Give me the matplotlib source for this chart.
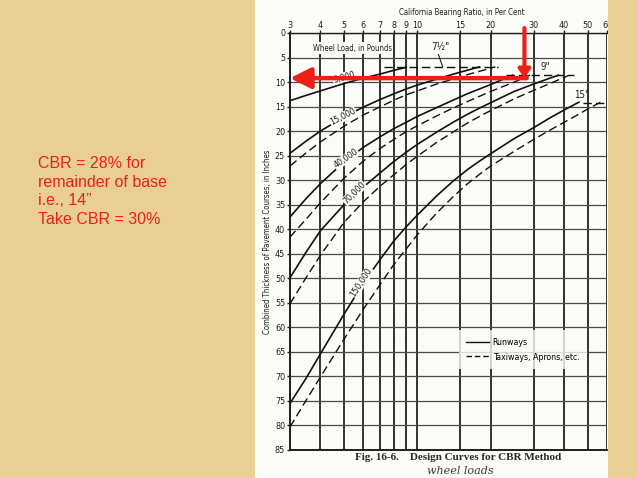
import numpy as np
import matplotlib
matplotlib.use('Agg')
from matplotlib import pyplot as plt
from matplotlib.patches import Rectangle
from matplotlib.lines import Line2D
from matplotlib.ticker import FixedLocator, FixedFormatter, NullLocator

# axis ticks
cbr_ticks = [3, 4, 5, 6, 7, 8, 9, 10, 15, 20, 30, 40, 50, 60]
thk_ticks = list(range(0, 90, 5))

# design curves: CBR (%) vs combined thickness (in)
w5k_run_cbr = [3, 3.5, 4, 5, 6, 7, 8, 9]
w5k_run_thk = [13.8, 12.7, 11.8, 10.3, 9.2, 8.4, 7.6, 7.0]

w15k_run_cbr = [3, 3.5, 4, 5, 6, 7, 8, 9, 10, 12, 14, 16, 18]
w15k_run_thk = [24.5, 22.0, 20.0, 17.1, 15.1, 13.6, 12.4, 11.4, 10.6, 9.4, 8.4, 7.6, 6.9]
w15k_taxi_cbr = [3, 3.5, 4, 5, 6, 7, 8, 9, 10, 12, 14, 16, 18, 20.9]
w15k_taxi_thk = [27.1, 24.4, 22.2, 19.0, 16.7, 15.1, 13.7, 12.6, 11.8, 10.4, 9.4, 8.5, 7.8, 6.9]

w40k_run_cbr = [3, 3.5, 4, 5, 6, 7, 8, 9, 10, 12, 14, 16, 18, 20, 24.6]
w40k_run_thk = [37.5, 33.7, 30.7, 26.3, 23.3, 21.2, 19.5, 18.2, 17.0, 15.2, 13.7, 12.4, 11.4, 10.5, 8.6]
w40k_taxi_cbr = [3, 3.5, 4, 5, 6, 7, 8, 9, 10, 12, 14, 16, 18, 20, 25, 29]
w40k_taxi_thk = [41.6, 37.9, 34.6, 29.6, 26.1, 23.6, 21.7, 20.1, 18.9, 16.9, 15.3, 14.0, 12.9, 11.9, 10.0, 8.6]

w70k_run_cbr = [3, 3.5, 4, 5, 6, 7, 8, 9, 10, 12, 14, 16, 18, 20, 25, 30, 35, 38]
w70k_run_thk = [49.9, 44.6, 40.3, 35.0, 31.4, 28.6, 26.2, 24.3, 22.7, 20.2, 18.2, 16.6, 15.3,
                14.2, 11.9, 10.4, 9.2, 8.6]
w70k_taxi_cbr = [3, 3.5, 4, 5, 6, 7, 8, 9, 10, 12, 14, 16, 18, 20, 25, 30, 35, 42]
w70k_taxi_thk = [55.2, 49.8, 45.3, 38.6, 34.4, 31.3, 28.9, 26.8, 25.1, 22.3, 20.2, 18.4, 17.0,
                 15.8, 13.4, 11.7, 10.3, 8.6]

w150k_run_cbr = [3, 3.5, 4, 5, 6, 7, 8, 9, 10, 12, 14, 16, 18, 20, 25, 30, 35, 40, 46]
w150k_run_thk = [75.5, 70.3, 65.4, 57.3, 51.0, 46.3, 42.4, 39.5, 37.1, 33.2, 30.2, 27.9, 26.1,
                 24.6, 21.5, 19.3, 17.3, 15.7, 14.1]
w150k_taxi_cbr = [3, 3.5, 4, 5, 6, 7, 8, 9, 10, 12, 14, 16, 18, 20, 25, 30, 35, 40, 45, 50, 56.5]
w150k_taxi_thk = [80.3, 74.8, 70.1, 62.4, 56.3, 51.4, 47.2, 44.0, 41.1, 36.7, 33.4, 30.8, 28.8,
                  27.1, 24.1, 21.7, 19.8, 18.2, 16.8, 15.5, 14.1]

# minimum thickness cut-offs (dashed horizontals)
min_thk = [6.9, 8.6, 14.2]
min_thk_from = [7.3, 23, 48]
min_thk_to = [21.5, 44, 60]
min_thk_labels = ['7\u00bd"', '9"', '15"']
min_lbl_cbr = [12.4, 33.4, 47.3]
min_lbl_thk = [2.9, 7.0, 12.6]

# curve labels
load_labels = ['5,000', '15,000', '40,000', '70,000', '150,000']
load_lbl_cbr = [5.0, 4.95, 5.1, 5.5, 5.9]
load_lbl_thk = [9.0, 17.1, 25.6, 32.6, 50.8]
load_lbl_rot = [16, 27, 34, 45, 57]

# red reading arrow
pick_cbr = 27.5
pick_thk = 9.2

note_lines = ['CBR = 28% for', 'remainder of base', 'i.e., 14\u201d', 'Take CBR = 30%']

tan = '#EACF94'
red = '#EC2016'
ink = '#1e1e1e'
paper = '#FBFBF8'
narrow = dict(family=['Liberation Sans Narrow', 'DejaVu Sans'], stretch='condensed')

W, H = 638, 478
fig = plt.figure(figsize=(W / 100, H / 100), dpi=100)
fig.patch.set_facecolor(tan)

# scanned page
fig.add_artist(Rectangle((255 / W, 0), (608 - 255) / W, 1, transform=fig.transFigure,
                         facecolor=paper, edgecolor='none', zorder=-5))

ax = fig.add_axes([290 / W, 1 - 450 / H, (607 - 290) / W, (450 - 33) / H])
ax.set_facecolor('none')
ax.set_xscale('log')
ax.set_xlim(3, 60)
ax.set_ylim(85, 0)

ax.xaxis.set_major_locator(FixedLocator(cbr_ticks))
ax.xaxis.set_major_formatter(FixedFormatter([str(c) for c in cbr_ticks]))
ax.xaxis.set_minor_locator(NullLocator())
ax.set_yticks(thk_ticks)
ax.tick_params(axis='x', top=True, labeltop=True, bottom=False, labelbottom=False,
               length=2, width=1, pad=0.5, labelsize=6.5, colors=ink)
ax.tick_params(axis='y', length=2, width=1, pad=1.5, labelsize=6.5, colors=ink)
for lb in ax.get_xticklabels() + ax.get_yticklabels():
    lb.set_family(narrow['family'])
    lb.set_stretch(narrow['stretch'])

ax.xaxis.grid(True, color='#222222', lw=1.3)
ax.yaxis.grid(True, color='#4a4a4a', lw=0.9)
ax.set_axisbelow(True)
for s in ['left', 'bottom']:
    ax.spines[s].set_linewidth(1.4)
    ax.spines[s].set_color(ink)
ax.spines['top'].set_linewidth(1.0)
ax.spines['top'].set_color(ink)
ax.spines['right'].set_visible(False)

ax.set_ylabel('Combined Thickness of Pavement Courses, in Inches', fontsize=5.6,
              color=ink, **narrow)
ax.yaxis.set_label_coords(-0.058, 0.5)
ax.text(0.543, 1.05, 'California Bearing Ratio, in Per Cent', transform=ax.transAxes,
        ha='center', va='center', fontsize=5.6, color=ink, **narrow)

solid = dict(color='#111111', lw=1.2, zorder=3)
dashed = dict(color='#111111', lw=1.0, ls=(0, (6, 3)), zorder=3)
ax.plot(w5k_run_cbr, w5k_run_thk, **solid)
ax.plot(w15k_run_cbr, w15k_run_thk, **solid)
ax.plot(w15k_taxi_cbr, w15k_taxi_thk, **dashed)
ax.plot(w40k_run_cbr, w40k_run_thk, **solid)
ax.plot(w40k_taxi_cbr, w40k_taxi_thk, **dashed)
ax.plot(w70k_run_cbr, w70k_run_thk, **solid)
ax.plot(w70k_taxi_cbr, w70k_taxi_thk, **dashed)
ax.plot(w150k_run_cbr, w150k_run_thk, **solid)
ax.plot(w150k_taxi_cbr, w150k_taxi_thk, **dashed)

ax.hlines(min_thk, min_thk_from, min_thk_to, colors='#111111', lw=1.0,
          linestyles=[(0, (6, 3))], zorder=3)
for lab, c, t in zip(min_thk_labels, min_lbl_cbr, min_lbl_thk):
    ax.text(c, t, lab, ha='center', va='center', fontsize=7, color=ink, **narrow)
ax.plot([12.2, 12.7], [4.4, 6.9], color=ink, lw=0.8)

for lab, c, t, r in zip(load_labels, load_lbl_cbr, load_lbl_thk, load_lbl_rot):
    ax.text(c, t, lab, ha='center', va='center', rotation=r, fontsize=6.5,
            color=ink, zorder=4, rotation_mode='anchor',
            bbox=dict(boxstyle='square,pad=0.05', fc=paper, ec='none'), **narrow)

ax.text(0.0726, 0.964, 'Wheel Load, in Pounds', transform=ax.transAxes, ha='left',
        va='center', fontsize=5.6, color=ink, zorder=4,
        bbox=dict(boxstyle='square,pad=0.15', fc=paper, ec='none'), **narrow)

handles = [Line2D([], [], color='#111111', lw=1.0),
           Line2D([], [], color='#111111', lw=1.0, ls=(0, (4, 2)))]
leg = ax.legend(handles, ['Runways', 'Taxiways, Aprons, etc.'], loc='center',
                bbox_to_anchor=(0.735, 0.24), frameon=True,
                handlelength=2.6, handletextpad=0.4, borderpad=0.6, labelspacing=0.6,
                prop={'family': narrow['family'], 'stretch': 'condensed', 'size': 6.3})
leg.get_frame().set_facecolor(paper)
leg.get_frame().set_edgecolor('none')
leg.get_frame().set_boxstyle('square')
leg.set_zorder(5)

# red reading arrow
ax.annotate('', xy=(pick_cbr, pick_thk), xytext=(pick_cbr, -1.0), annotation_clip=False,
            arrowprops=dict(arrowstyle='-|>,head_length=0.5,head_width=0.35', color=red,
                            lw=3, mutation_scale=10, shrinkA=0, shrinkB=0), zorder=6)
ax.annotate('', xy=(3, pick_thk), xytext=(pick_cbr + 0.6, pick_thk), annotation_clip=False,
            arrowprops=dict(arrowstyle='-|>,head_length=0.7,head_width=0.35', color=red,
                            lw=3.2, mutation_scale=18, shrinkA=0, shrinkB=0), zorder=6)

fig.text(458 / W, 1 - 457 / H, 'Fig. 16-6.    Design Curves for CBR Method', ha='center',
         va='center', fontsize=8, family='Liberation Serif', weight='bold', color='#2a2a2a')
fig.text(460 / W, 1 - 471 / H, 'wheel loads', ha='center', va='center', fontsize=8,
         family='DejaVu Serif', style='italic', color='#3a3a3a')

# left note
for i, line in enumerate(note_lines):
    fig.text(38 / W, 1 - (168 + 18.5 * i) / H, line, ha='left', va='baseline',
             fontsize=11.5, family='Liberation Sans', color=red)

# tan margin cutting off the scan on the right
fig.add_artist(Rectangle((608 / W, 0), (W - 608) / W, 1, transform=fig.transFigure,
                         facecolor=tan, edgecolor='none', zorder=20))

fig.savefig('out.png', dpi=100, facecolor=fig.get_facecolor())
